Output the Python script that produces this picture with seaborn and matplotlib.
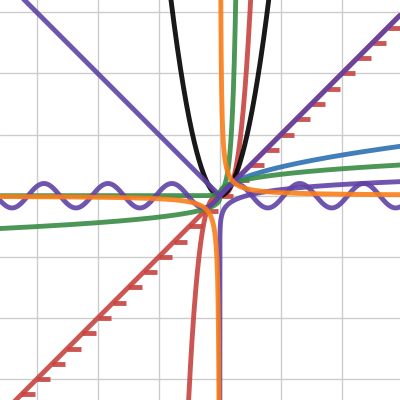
import numpy as np
import seaborn as sns
import matplotlib.pyplot as plt

RED, BLUE, GREEN = "#c74440", "#2d70b3", "#388c46"
PURPLE, ORANGE, BLACK = "#6042a6", "#fa7e19", "#000000"

x_min, x_max = -3.6, 2.95
y_min, y_max = -3.34, 3.2
step_levels = np.arange(-3.5, 3.3, 0.25)


def main():
    sns.set_style("white")
    fig, ax = plt.subplots(figsize=(4, 4), dpi=100)
    fig.subplots_adjust(0, 0, 1, 1)
    lw = 3.5
    x = np.linspace(x_min, x_max, 4000)
    tiny = np.geomspace(1e-14, 0.01, 800)
    xp = np.concatenate([tiny, x[x > 0.01]])
    xn = np.concatenate([x[x < -0.01], -tiny[::-1]])

    # grid
    for g in range(-3, 3):
        ax.axvline(g, color="#cccccc", lw=1, zorder=0)
    for g in range(-3, 4):
        ax.axhline(g, color="#cccccc", lw=1, zorder=0)

    sns.lineplot(x=x, y=x, color=RED, lw=lw, ax=ax, alpha=0.9)
    ax.hlines(step_levels, step_levels, step_levels + 0.22, color=RED, lw=lw, alpha=0.9)
    sns.lineplot(x=x, y=25 * x ** 3, color=RED, lw=lw, ax=ax, alpha=0.9)
    sns.lineplot(x=x, y=5 * x ** 2, color=BLACK, lw=lw, ax=ax, alpha=0.9)
    sns.lineplot(x=xp, y=0.47 * np.sqrt(xp), color=BLUE, lw=lw, ax=ax, alpha=0.9)
    sns.lineplot(x=x, y=0.35 * np.cbrt(x), color=GREEN, lw=lw, ax=ax, alpha=0.9)
    sns.lineplot(x=x, y=0.05 * np.exp(16 * x), color=GREEN, lw=lw, ax=ax, alpha=0.9)
    sns.lineplot(x=x, y=np.abs(x), color=PURPLE, lw=lw, ax=ax, alpha=0.9)
    sns.lineplot(x=x, y=0.2 * np.sin(6 * x), color=PURPLE, lw=lw, ax=ax, alpha=0.9)
    sns.lineplot(x=xp, y=0.12 * np.log(xp) + 0.1, color=PURPLE, lw=lw, ax=ax, alpha=0.9)
    sns.lineplot(x=xp, y=0.05 / xp, color=ORANGE, lw=lw, ax=ax, alpha=0.9)
    sns.lineplot(x=xn, y=0.05 / xn, color=ORANGE, lw=lw, ax=ax, alpha=0.9)

    ax.set_xlim(x_min, x_max)
    ax.set_ylim(y_min, y_max)
    ax.set_xticks([])
    ax.set_yticks([])
    for s in ax.spines.values():
        s.set_visible(False)
    fig.savefig("out.png")


if __name__ == "__main__":
    main()
